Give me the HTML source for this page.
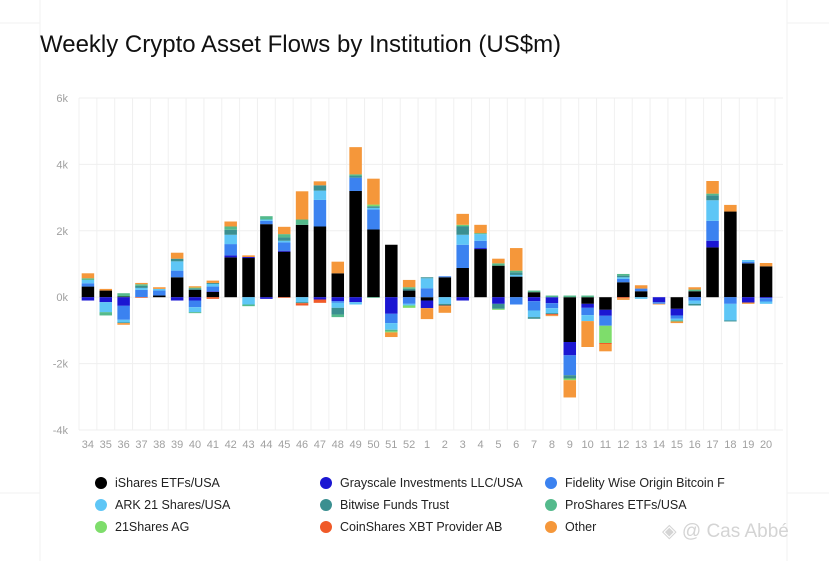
<!DOCTYPE html>
<html><head><meta charset="utf-8">
<style>
body{margin:0;background:#fff;font-family:"Liberation Sans",sans-serif;}
#wrap{position:relative;width:829px;height:561px;overflow:hidden;background:#fff;}
.title{position:absolute;left:40px;top:31px;font-size:24px;color:#111;}
.leg{position:absolute;font-size:12.5px;color:#222;}
.dot{display:inline-block;width:12px;height:12px;border-radius:50%;vertical-align:-2px;margin-right:8px;}
</style></head><body>
<div id="wrap">
<svg id="bg" width="829" height="561" style="position:absolute;left:0;top:0">
<line x1="40" y1="0" x2="40" y2="561" stroke="#f2f2f2"/>
<line x1="787" y1="0" x2="787" y2="561" stroke="#f2f2f2"/>
<line x1="787" y1="23" x2="829" y2="23" stroke="#f2f2f2"/>
<line x1="787" y1="493" x2="829" y2="493" stroke="#f2f2f2"/>
<line x1="0" y1="23" x2="40" y2="23" stroke="#f2f2f2"/>
<line x1="0" y1="493" x2="40" y2="493" stroke="#f2f2f2"/>
</svg>
<div class="title">Weekly Crypto Asset Flows by Institution (US$m)</div>
<svg id="chart" width="829" height="561" style="position:absolute;left:0;top:0"></svg>
<div class="leg" style="left:95px;top:476px"><span class="dot" style="background:#000"></span>iShares ETFs/USA</div>
<div class="leg" style="left:320px;top:476px"><span class="dot" style="background:#1b16d2"></span>Grayscale Investments LLC/USA</div>
<div class="leg" style="left:545px;top:476px"><span class="dot" style="background:#3b82f0"></span>Fidelity Wise Origin Bitcoin F</div>
<div class="leg" style="left:95px;top:498px"><span class="dot" style="background:#5ec6f6"></span>ARK 21 Shares/USA</div>
<div class="leg" style="left:320px;top:498px"><span class="dot" style="background:#3a8f90"></span>Bitwise Funds Trust</div>
<div class="leg" style="left:545px;top:498px"><span class="dot" style="background:#54ba8c"></span>ProShares ETFs/USA</div>
<div class="leg" style="left:95px;top:520px"><span class="dot" style="background:#7edd6b"></span>21Shares AG</div>
<div class="leg" style="left:320px;top:520px"><span class="dot" style="background:#f05a28"></span>CoinShares XBT Provider AB</div>
<div class="leg" style="left:545px;top:520px"><span class="dot" style="background:#f5973a"></span>Other</div>
<div style="position:absolute;left:662px;top:520px;font-size:19px;color:#d4d4d4;">◈ @ Cas Abbé</div>
</div>
<script>
const categories=["34","35","36","37","38","39","40","41","42","43","44","45","46","47","48","49","50","51","52","1","2","3","4","5","6","7","8","9","10","11","12","13","14","15","16","17","18","19","20"];
const seriesNames=["iShares","Grayscale","Fidelity","ARK","Bitwise","ProShares","21Shares","CoinShares","Other"];
const seriesColors=["#000000","#1b16d2","#3b82f0","#5ec6f6","#3a8f90","#54ba8c","#7edd6b","#f05a28","#f5973a"];
// values in $m per week: [iShares, Grayscale, Fidelity, ARK, Bitwise, ProShares, 21Shares, CoinShares, Other]
const w34=[320,-100,100,100,0,50,0,0,150];
const w35=[200,-150,0,-300,0,-100,0,0,50];
const w36=[20,-260,-420,-80,-20,100,0,0,-50];
const w37=[0,0,220,60,60,50,0,-20,40];
const w38=[50,0,150,50,0,0,0,0,50];
const w39=[600,-100,200,280,80,0,0,0,180];
const w40=[220,-100,-200,-150,50,-30,20,0,40];
const w41=[160,20,140,80,30,0,0,-50,70];
const w42=[1200,60,340,280,150,100,0,0,150];
const w43=[1180,30,0,-220,0,-50,0,0,50];
const w44=[2200,-50,100,40,0,100,0,0,0];
const w45=[1370,30,250,50,100,100,0,-20,220];
const w46=[2180,0,0,-150,-30,160,0,-70,850];
const w47=[2130,-70,800,280,160,0,0,-100,120];
const w48=[720,-120,-50,-150,-200,-80,0,0,350];
const w49=[3200,-150,400,-70,50,50,0,0,820];
const w50=[2040,0,600,50,50,-20,50,0,780];
const w51=[1580,-500,-280,-200,0,-50,-30,0,-140];
const w52=[200,0,-200,-50,50,50,-70,0,220];
const w1=[-100,-230,270,300,30,0,0,0,-330];
const w2=[600,0,30,-200,-50,0,0,-20,-200];
const w3=[880,-100,700,300,250,30,20,0,330];
const w4=[1450,30,220,200,0,30,0,0,250];
const w5=[950,-200,0,0,-150,70,-30,0,140];
const w6=[620,0,-220,50,80,50,0,0,680];
const w7=[150,-120,-280,-200,-50,50,0,0,0];
const w8=[0,-180,-150,-150,-30,50,0,-30,-30];
const w9=[-1350,-400,-600,0,-100,50,-50,0,-520];
const w10=[-200,-120,-220,-180,0,50,0,0,-780];
const w11=[-380,-180,-300,0,0,0,-520,-30,-220];
const w12=[450,0,100,50,50,50,0,-30,-50];
const w13=[180,0,80,-50,0,0,0,0,100];
const w14=[0,-150,-50,0,0,0,0,0,-20];
const w15=[-350,-200,-100,-50,0,-30,0,0,-50];
const w16=[180,0,-100,-100,-50,50,0,0,70];
const w17=[1500,200,600,620,150,50,0,0,380];
const w18=[2580,0,-200,-500,-30,0,0,0,200];
const w19=[1020,-160,50,50,0,0,0,0,-40];
const w20=[930,-30,-100,-70,0,0,0,0,100];
const weeks=[w34,w35,w36,w37,w38,w39,w40,w41,w42,w43,w44,w45,w46,w47,w48,w49,w50,w51,w52,w1,w2,w3,w4,w5,w6,w7,w8,w9,w10,w11,w12,w13,w14,w15,w16,w17,w18,w19,w20];
const yTicks=[6000,4000,2000,0,-2000,-4000];
const yTickLabels=["6k","4k","2k","0k","-2k","-4k"];

const NS="http://www.w3.org/2000/svg";
const svg=document.getElementById('chart');
const plotL=79,plotR=775,yTop=98,yBot=430,vMax=6000,vMin=-4000;
function yScale(v){return yTop+(vMax-v)/(vMax-vMin)*(yBot-yTop);}
const step=(plotR-plotL)/categories.length;
function xScale(i){return plotL+step*(i+0.5);}
function mk(tag,attrs){const e=document.createElementNS(NS,tag);for(const k in attrs)e.setAttribute(k,attrs[k]);svg.appendChild(e);return e;}
for(let i=0;i<=categories.length;i++){
  const x=plotL+step*i;
  const l=mk('line',{x1:x,x2:x,y1:yTop,y2:yBot,stroke:'#f0f0f0'});
  
  
}
yTicks.forEach((t,i)=>{
  const y=yScale(t);
  const l=mk('line',{x1:plotL,x2:plotR+8,y1:y,y2:y,stroke:'#efefef'});
  
  
  const tx=mk('text',{x:68,y:y+4,'text-anchor':'end','font-size':'11',fill:'#a0a0a0','font-family':'Liberation Sans, sans-serif'});
  tx.textContent=yTickLabels[i];
  
  
});
const bw=12.5;
weeks.forEach((vals,i)=>{
  const cx=xScale(i);
  let pos=0,neg=0;
  vals.forEach((v,s)=>{
    if(v===0)return;
    let y0,y1;
    if(v>0){y0=pos;y1=pos+v;pos=y1;}else{y0=neg;y1=neg+v;neg=y1;}
    const top=yScale(Math.max(y0,y1)),bot=yScale(Math.min(y0,y1));
    const r=mk('rect',{x:cx-bw/2,y:top,width:bw,height:Math.max(bot-top,0.5),fill:seriesColors[s]});
    
    
  });
  const tx=mk('text',{x:cx,y:448,'text-anchor':'middle','font-size':'11',fill:'#a0a0a0','font-family':'Liberation Sans, sans-serif'});
  tx.textContent=categories[i];
  
  
});
</script>
</body></html>
